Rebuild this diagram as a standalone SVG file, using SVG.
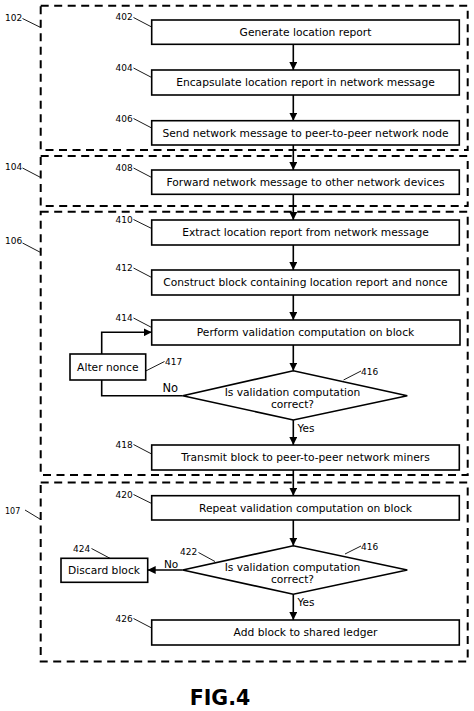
<svg xmlns="http://www.w3.org/2000/svg" width="474" height="711" viewBox="0 0 474 711">
<style>
.bg{fill:#fff}
.grp{fill:none;stroke:#000;stroke-width:2;stroke-dasharray:8 5.5}
.box{fill:#fff;stroke:#000;stroke-width:1.6}
.t{font-family:"DejaVu Sans",sans-serif;font-size:10.7px;fill:#000;text-anchor:middle}
.r{font-family:"DejaVu Sans",sans-serif;font-size:9px;fill:#000}
.ld{fill:none;stroke:#000;stroke-width:0.9}
.c{fill:none;stroke:#000;stroke-width:1.6}
</style>
<defs>
<marker id="ah" viewBox="0 0 10 10" refX="10" refY="5" markerWidth="8" markerHeight="8" markerUnits="userSpaceOnUse" orient="auto">
<path d="M0,0 L10,5 L0,10 z" fill="#000"/>
</marker>
</defs>
<rect class="bg" width="474" height="711"/>
<g id="groups">
<rect class="grp" x="40.7" y="5.7" width="427" height="144.3"/>
<rect class="grp" x="40.7" y="156" width="427" height="50"/>
<rect class="grp" x="40.7" y="211.7" width="427" height="263.3"/>
<rect class="grp" x="40.7" y="482.5" width="427" height="179"/>
<text class="r" x="5" y="20.5">102</text>
<path class="ld" d="M22.5,18.5 L40.7,27.5"/>
<text class="r" x="5" y="169.5">104</text>
<path class="ld" d="M22.5,168 L40.7,177.5"/>
<text class="r" x="5" y="244">106</text>
<path class="ld" d="M22.5,243 L40.7,252.5"/>
<text class="r" x="5" y="513.5" style="font-size:8px">107</text>
<path class="ld" d="M25,510 L40.7,519.5"/>
</g>
<g id="connectors">
<path class="c" d="M293.3,44.3 V70" marker-end="url(#ah)"/>
<path class="c" d="M293.3,95 V120.7" marker-end="url(#ah)"/>
<path class="c" d="M293.3,145 V170" marker-end="url(#ah)"/>
<path class="c" d="M293.3,194.3 V220" marker-end="url(#ah)"/>
<path class="c" d="M293.3,245 V270" marker-end="url(#ah)"/>
<path class="c" d="M293.3,295 V320" marker-end="url(#ah)"/>
<path class="c" d="M293.3,345 V370.7" marker-end="url(#ah)"/>
<path class="c" d="M182.7,395.7 H101.7 V332.3 H151.7" marker-end="url(#ah)"/>
<path class="c" d="M293.3,420 V445" marker-end="url(#ah)"/>
<path class="c" d="M293.3,470 V495.7" marker-end="url(#ah)"/>
<path class="c" d="M293.3,520 V545.7" marker-end="url(#ah)"/>
<path class="c" d="M182.7,570 H147.7" marker-end="url(#ah)"/>
<path class="c" d="M293.3,594.3 V620" marker-end="url(#ah)"/>
<text class="r" x="162.5" y="392" style="font-size:11.5px">No</text>
<text class="r" x="297.5" y="431.5" style="font-size:10.5px">Yes</text>
<text class="r" x="164" y="568" style="font-size:10.5px">No</text>
<text class="r" x="297.5" y="606" style="font-size:10.5px">Yes</text>
</g>
<g id="n402">
<rect class="box" x="151.7" y="20" width="307.6" height="24.3"/>
<text class="t" x="305.5" y="35.8">Generate location report</text>
<text class="r" x="115.5" y="20">402</text>
<path class="ld" d="M133.5,17.5 L151.7,27"/>
</g>
<g id="n404">
<rect class="box" x="151.7" y="70" width="307.6" height="25"/>
<text class="t" x="305.5" y="86">Encapsulate location report in network message</text>
<text class="r" x="115.5" y="71">404</text>
<path class="ld" d="M133.5,68 L151.7,77.5"/>
</g>
<g id="n406">
<rect class="box" x="151.7" y="120.7" width="307.6" height="24.3"/>
<text class="t" x="305.5" y="136.5">Send network message to peer-to-peer network node</text>
<text class="r" x="115.5" y="121.5">406</text>
<path class="ld" d="M133.5,118.5 L151.7,128"/>
</g>
<g id="n408">
<rect class="box" x="151.7" y="170" width="307.6" height="24.3"/>
<text class="t" x="305.5" y="185.8">Forward network message to other network devices</text>
<text class="r" x="115.5" y="170.5">408</text>
<path class="ld" d="M133.5,168 L151.7,177.5"/>
</g>
<g id="n410">
<rect class="box" x="151.7" y="220" width="307.6" height="25"/>
<text class="t" x="305.5" y="236">Extract location report from network message</text>
<text class="r" x="115.5" y="222.5">410</text>
<path class="ld" d="M133.5,219.5 L151.7,228.5"/>
</g>
<g id="n412">
<rect class="box" x="151.7" y="270" width="307.6" height="25"/>
<text class="t" x="305.5" y="286">Construct block containing location report and nonce</text>
<text class="r" x="115.5" y="271">412</text>
<path class="ld" d="M133.5,268 L151.7,277.5"/>
</g>
<g id="n414">
<rect class="box" x="151.7" y="320" width="308.3" height="25"/>
<text class="t" x="305.5" y="336">Perform validation computation on block</text>
<text class="r" x="115.5" y="320.5">414</text>
<path class="ld" d="M133.5,318 L151.7,327.5"/>
</g>
<g id="n417">
<rect class="box" x="70" y="354" width="75.7" height="26"/>
<text class="t" x="107.8" y="371">Alter nonce</text>
<text class="r" x="165" y="364.5">417</text>
<path class="ld" d="M164.5,361.5 L145.7,371"/>
</g>
<g id="n416a">
<polygon class="box" points="182.7,395.7 293.3,370.7 407.3,395.7 293.3,420"/>
<text class="t" x="292.5" y="396">Is validation computation</text>
<text class="t" x="292.5" y="408.3">correct?</text>
<text class="r" x="361" y="374.5">416</text>
<path class="ld" d="M361,371 L343.5,380"/>
</g>
<g id="n418">
<rect class="box" x="151.7" y="445" width="307.6" height="25"/>
<text class="t" x="305.5" y="461">Transmit block to peer-to-peer network miners</text>
<text class="r" x="115.5" y="447.5">418</text>
<path class="ld" d="M133.5,444.5 L151.7,454"/>
</g>
<g id="n420">
<rect class="box" x="151.7" y="495.7" width="307.6" height="24.3"/>
<text class="t" x="305.5" y="511.5">Repeat validation computation on block</text>
<text class="r" x="115.5" y="497.5">420</text>
<path class="ld" d="M133.5,494.5 L151.7,503.5"/>
</g>
<g id="n422">
<polygon class="box" points="182.7,570 293.3,545.7 407.3,570 293.3,594.3"/>
<text class="t" x="292.5" y="571">Is validation computation</text>
<text class="t" x="292.5" y="583">correct?</text>
<text class="r" x="180" y="555">422</text>
<path class="ld" d="M198.5,552.5 L215,561.5"/>
<text class="r" x="361" y="549.5">416</text>
<path class="ld" d="M361,546 L345,554"/>
</g>
<g id="n424">
<rect class="box" x="61" y="558.3" width="86.7" height="24"/>
<text class="t" x="104" y="574.3">Discard block</text>
<text class="r" x="73" y="551.5">424</text>
<path class="ld" d="M91.5,548.5 L110,558.3"/>
</g>
<g id="n426">
<rect class="box" x="151.7" y="620" width="307.6" height="25"/>
<text class="t" x="305.5" y="636">Add block to shared ledger</text>
<text class="r" x="115.5" y="621.5">426</text>
<path class="ld" d="M133.5,618.5 L151.7,628"/>
</g>
<text x="220" y="705" style="font-family:'DejaVu Sans',sans-serif;font-weight:bold;font-size:20.5px;text-anchor:middle">FIG.4</text>
</svg>
